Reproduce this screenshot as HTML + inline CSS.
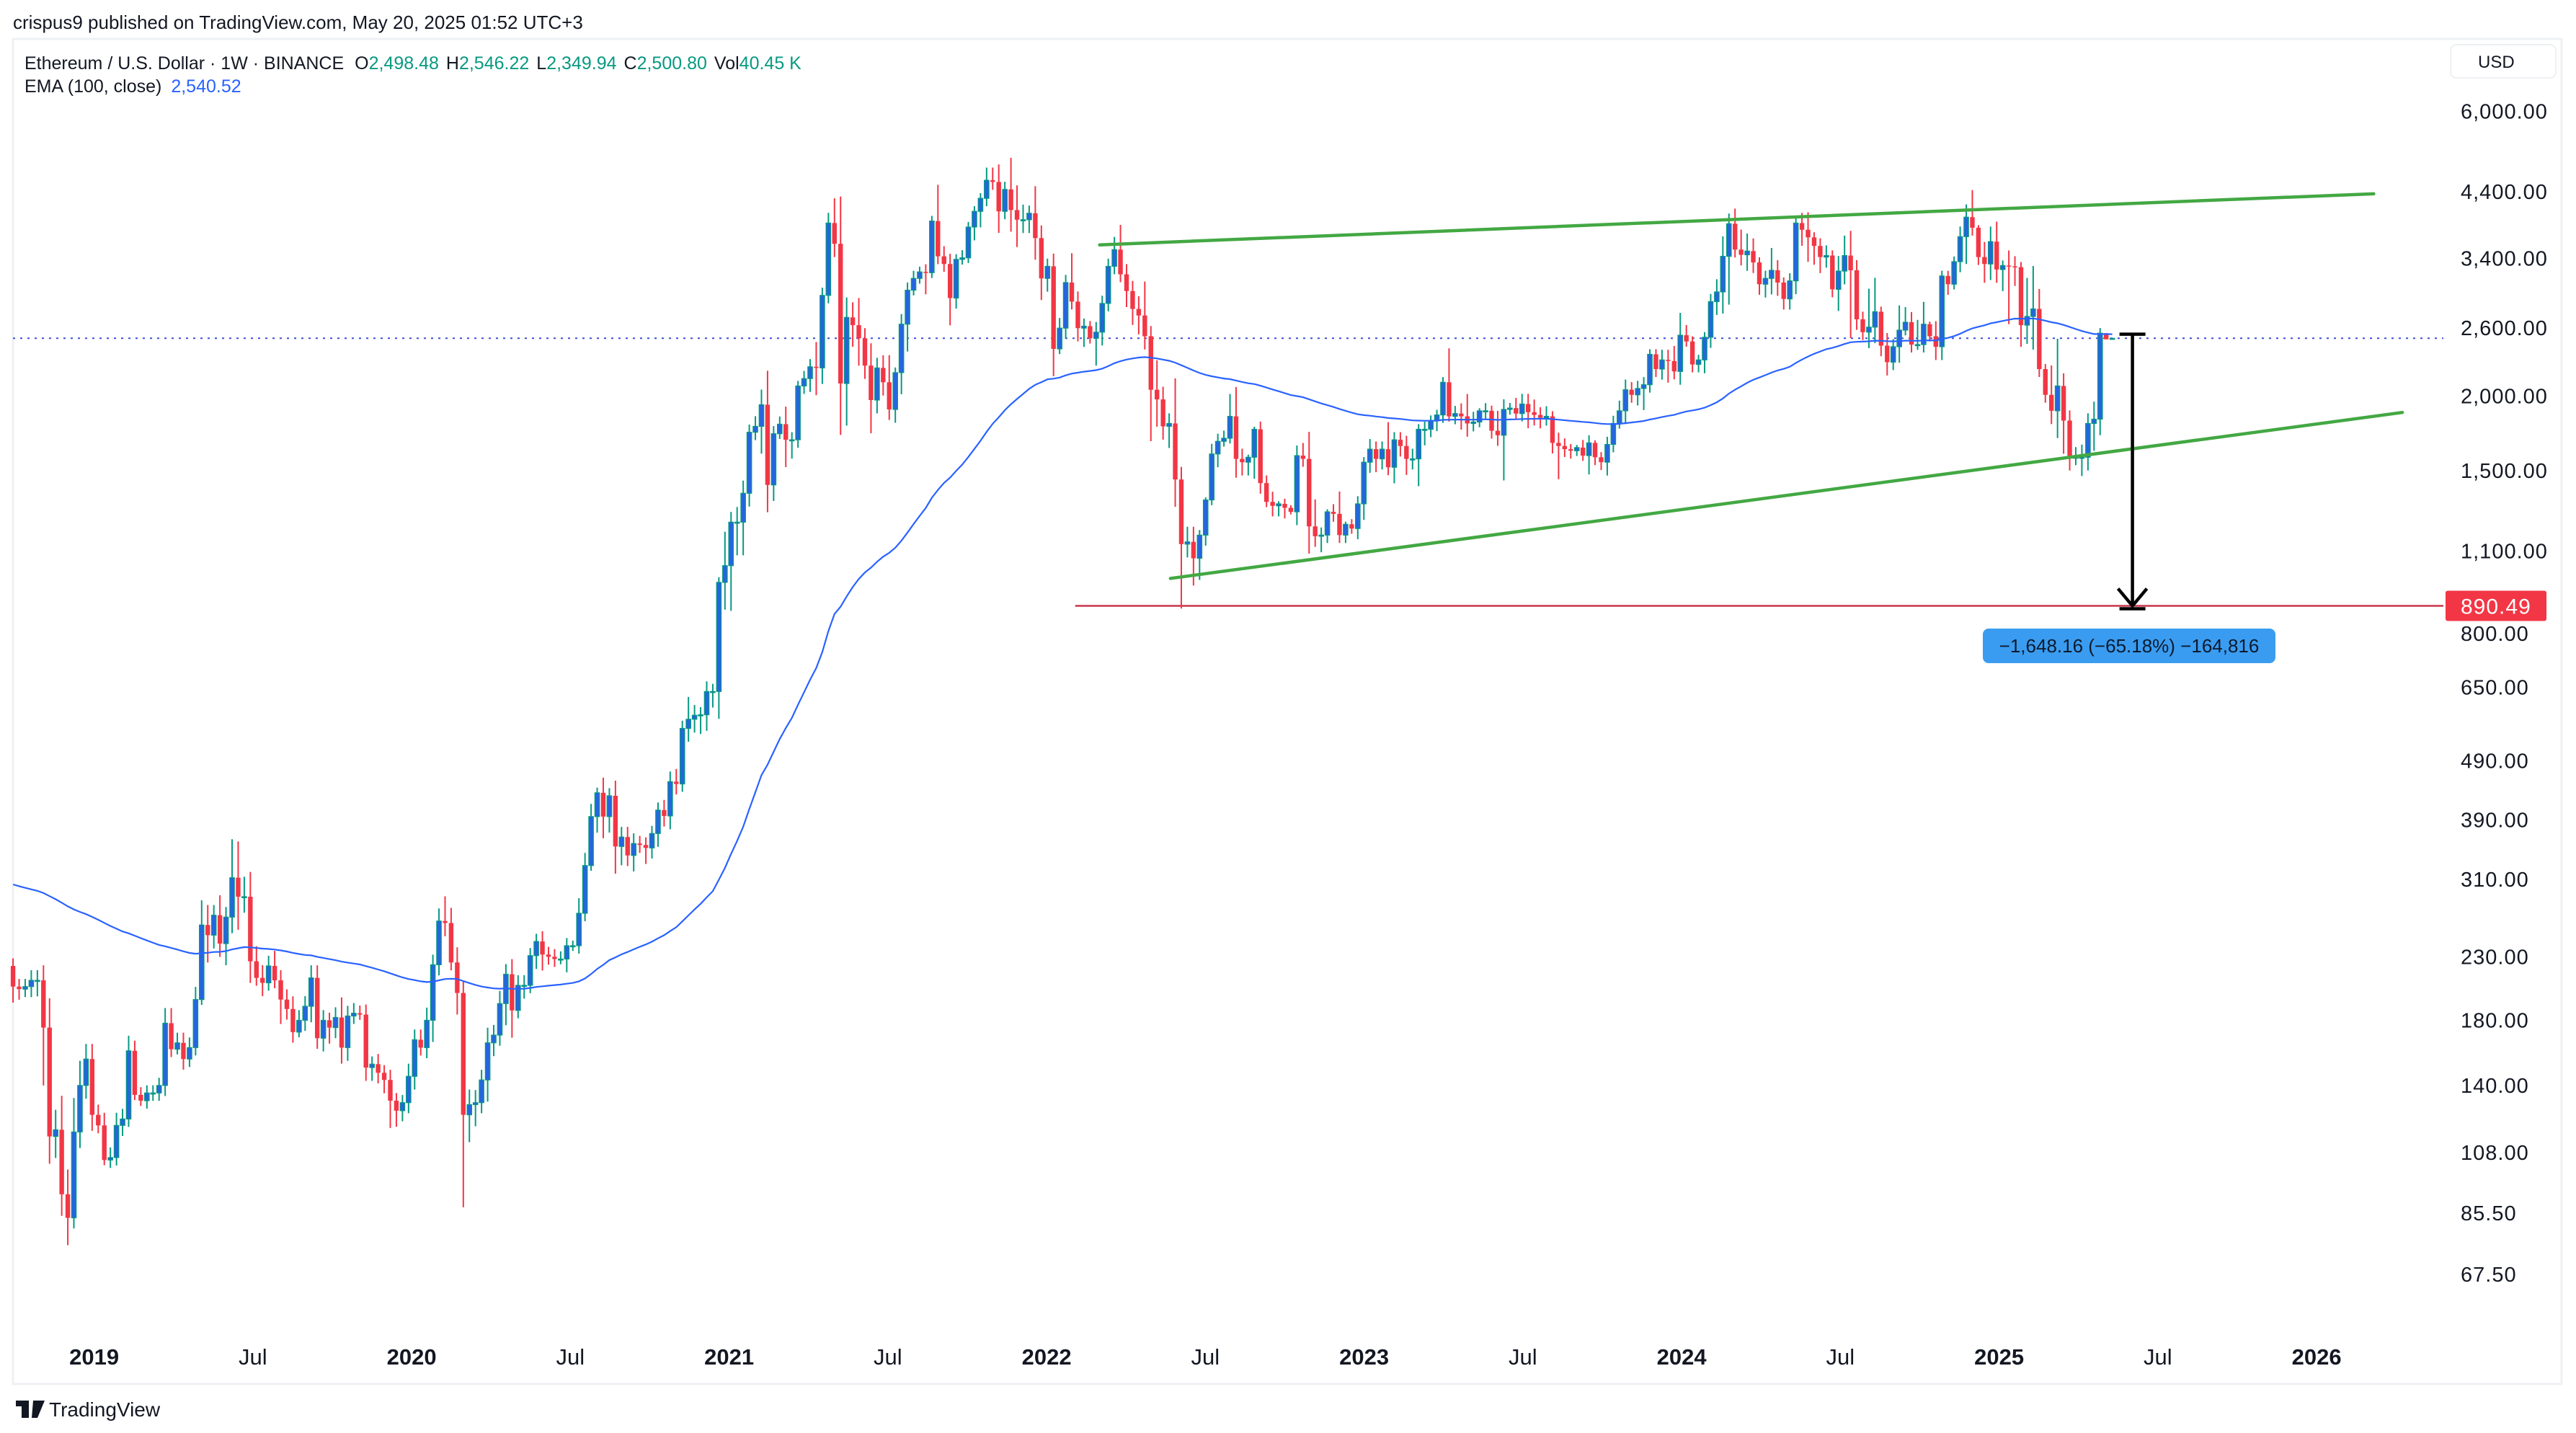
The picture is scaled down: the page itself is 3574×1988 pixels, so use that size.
<!DOCTYPE html>
<html><head><meta charset="utf-8"><style>
html,body{margin:0;padding:0;background:#fff;}
body{width:3574px;height:1988px;overflow:hidden;font-family:"Liberation Sans",sans-serif;}
svg{display:block;}
</style></head><body>
<svg id="chart" width="3574" height="1988" viewBox="0 0 3574 1988" xmlns="http://www.w3.org/2000/svg" font-family="Liberation Sans, sans-serif">
<rect x="0" y="0" width="3574" height="1988" fill="#fff"/>
<text x="18" y="40" font-size="26" fill="#131722">crispus9 published on TradingView.com, May 20, 2025 01:52 UTC+3</text>
<rect x="18" y="54" width="3536" height="1866" fill="none" stroke="#eef0f3" stroke-width="3"/>
<g id="grid"></g>
<g id="ann"></g>
<g id="candles"></g>
<g id="ema"></g>
<g id="over"></g>
<g id="yaxis"></g>
<g id="xaxis"></g>
<text x="34" y="96" font-size="25" fill="#131722">Ethereum / U.S. Dollar · 1W · BINANCE <tspan dx="8">O</tspan><tspan fill="#089981">2,498.48</tspan><tspan dx="10">H</tspan><tspan fill="#089981">2,546.22</tspan><tspan dx="10">L</tspan><tspan fill="#089981">2,349.94</tspan><tspan dx="10">C</tspan><tspan fill="#089981">2,500.80</tspan><tspan dx="10">Vol</tspan><tspan fill="#089981">40.45 K</tspan></text>
<text x="34" y="128" font-size="25" fill="#131722">EMA (100, close) <tspan dx="6" fill="#2962ff">2,540.52</tspan></text>
<rect x="3400" y="62" width="146" height="46" rx="8" fill="#fff" stroke="#eef0f3" stroke-width="2"/>
<text x="3438" y="94" font-size="24" fill="#131722">USD</text>
<g>
<g fill="#131722">
<rect x="22" y="1943" width="18" height="8"/><rect x="30" y="1943" width="10" height="24"/>
<polygon points="46,1943 62,1943 52,1967 44,1967"/>
</g>
<text x="68" y="1965" font-size="28" fill="#131722">TradingView</text>
</g>
</svg>
<script>
const startOpen = 222;
const emaSeed = 306;
const closes = [
205,203,205,210,210,175,115,118,92,84,117,140,155,
125,120,105,106,120,123,160,135,132,136,136,140,178,161,165,155,162,195,260,250,270,242,268,312,290,290,226,212,208,222,210,195,188,172,180,190,212,168,180,175,182,162,183,185,184,150,152,147,143,132,127,131,
145,167,162,180,223,264,262,225,200,125,130,131,143,165,170,192,215,187,206,206,231,244,232,230,228,228,240,240,272,327,395,433,395,428,352,365,340,356,354,350,370,405,396,452,448,555,575,584,585,640,640,975,
1040,1230,1230,1375,1740,1780,1935,1420,1730,1795,1690,1690,2080,2140,2240,2230,2950,3900,3600,2100,2710,2630,2500,2250,1970,2230,2110,1900,2190,2640,3010,3150,3230,3220,3930,3430,3330,2920,3390,3410,3840,4080,4290,4600,4570,4080,4440,4100,3950,3950,4050,3680,
3150,3300,2400,2600,3100,2880,2600,2620,2500,2560,2860,3300,3520,3200,3000,2800,2730,2520,2050,1975,1780,1800,1450,1130,1140,1070,1170,1340,1600,1680,1700,1850,1570,1550,1580,1760,1430,1330,1310,1320,1300,1280,1590,1570,1210,1165,1170,1280,1270,1170,1220,1200,
1320,1550,1630,1570,1630,1520,1690,1650,1570,1570,1760,1760,1820,1860,2110,1850,1870,1850,1800,1810,1890,1890,1750,1720,1900,1910,1870,1940,1880,1860,1840,1850,1670,1650,1630,1620,1640,1590,1670,1580,1550,1660,1800,1890,2050,2010,2060,2090,2350,2220,2300,2290,
2200,2530,2470,2260,2300,2510,2880,2990,3430,3890,3520,3450,3500,3350,3080,3150,3250,3100,2910,3120,3900,3800,3690,3570,3420,3440,3020,3240,3440,3250,2690,2560,2610,2770,2430,2280,2420,2580,2660,2440,2440,2640,2520,2420,3180,3080,3360,3700,3990,3830,3420,3330,3630,
3260,3310,3300,3290,2630,2720,2800,2220,2010,1890,2080,1820,1580,1580,1580,1800,1830,2550,2490,2500];
const hiPct = [
3,3,3,4,4,6,12,8,14,10,14,10,6,
6,4,5,4,5,4,6,4,3,3,3,3,6,6,4,4,4,5,10,8,4,8,4,16,15,8,10,6,5,4,6,4,4,5,4,4,5,5,4,3,4,8,4,4,3,4,3,4,3,4,3,3,
5,4,4,5,4,5,10,6,6,5,6,5,4,6,4,5,4,6,4,4,3,3,4,3,3,3,3,2,6,5,5,2,6,3,6,4,4,4,3,3,3,3,4,4,5,3,9,4,3,4,3,2,
14,4,6,5,3,4,6,14,3,3,7,3,2,3,3,10,3,4,10,20,8,6,11,4,9,4,5,11,2,4,3,3,2,3,2,15,4,4,2,3,2,2,2,5,5,7,3,13,10,6,3,11,
5,3,5,4,3,12,4,3,2,4,3,3,5,10,4,4,5,14,4,12,5,4,19,5,6,6,2,1,4,3,3,9,12,4,1,1,3,3,4,1,2,1,4,5,11,11,3,1,3,9,1,2,
3,2,4,3,3,11,3,3,4,4,2,3,2,2,2,14,3,4,9,4,1,3,2,8,4,2,4,4,4,5,3,4,2,4,3,2,1,3,3,1,2,3,3,4,4,3,3,3,2,2,
4,4,6,9,4,2,2,2,3,5,8,4,6,8,7,5,2,3,9,4,2,3,2,4,7,2,3,4,2,6,8,10,4,3,16,14,2,5,3,10,6,4,10,9,1,6,2,2,2,4,5,11,1,
6,6,8,2,6,4,2,16,18,8,2,12,20,5,4,4,5,4,7,2];
const loPct = [
6,4,3,4,6,20,10,8,8,10,4,6,5,
6,3,2,3,3,4,3,2,2,3,3,3,4,3,2,4,3,3,2,10,5,5,8,6,12,6,8,3,5,3,3,9,4,4,2,4,6,4,5,6,4,6,5,3,2,5,5,4,5,10,6,4,
4,5,3,4,8,4,5,3,8,30,10,8,4,8,5,4,8,10,3,5,3,5,6,3,3,2,5,2,3,3,2,6,8,6,10,7,4,6,3,6,4,5,4,5,4,3,5,5,7,6,6,10,
10,16,12,12,5,3,10,10,6,2,10,7,3,3,5,10,6,3,5,18,15,8,10,5,12,5,5,4,5,8,10,2,2,8,2,3,3,10,4,2,2,5,6,3,3,8,3,8,10,5,5,8,
8,5,10,2,4,3,5,7,2,10,5,3,3,3,6,6,7,5,18,10,5,8,10,22,5,10,8,4,2,5,2,2,7,5,5,8,4,2,4,4,4,1,5,3,10,4,6,3,3,3,3,2,
4,6,4,5,4,3,6,4,6,4,10,6,3,4,3,2,3,5,5,3,2,3,3,4,16,2,2,3,6,4,4,3,4,12,3,3,2,2,7,3,3,5,3,2,5,3,4,8,3,3,
4,8,3,5,2,3,3,5,4,5,8,17,3,4,6,4,4,5,6,5,4,4,5,6,9,7,6,4,3,8,5,23,4,3,6,6,4,5,3,6,2,3,2,3,2,5,5,4,2,4,10,3,3,
7,6,5,8,20,7,8,7,12,3,3,5,10,12,5,3,7,5,10,6];
const priceTicks = [6000,4400,3400,2600,2000,1500,1100,800,650,490,390,310,230,180,140,108,85.5,67.5];
const priceTickLabels = ["6,000.00","4,400.00","3,400.00","2,600.00","2,000.00","1,500.00","1,100.00","800.00","650.00","490.00","390.00","310.00","230.00","180.00","140.00","108.00","85.50","67.50"];
const timeTicks = [2019,2019.5,2020,2020.5,2021,2021.5,2022,2022.5,2023,2023.5,2024,2024.5,2025,2025.5,2026];
const timeTickLabels = ["2019","Jul","2020","Jul","2021","Jul","2022","Jul","2023","Jul","2024","Jul","2025","Jul","2026"];
const upperTrend = [[2022.167,3585],[2026.18,4366]];
const lowerTrend = [[2022.39,990],[2026.27,1878]];
const supportLevel = 890.49;
const supportStart = 2022.09;
const lastClose = 2500.80;
const arrowDate = 2025.42;
const arrowTop = 2540;

const NS="http://www.w3.org/2000/svg";
const X2019=130.6, PPY=440.5, STARTOFF=85, CSHIFT=-10;
const Y0=154.5, K=359.6, LN6000=Math.log(6000);
function yP(p){return Y0+(LN6000-Math.log(p))*K;}
function xYear(f){return X2019+(f-2019)*PPY;}
function xIdx(i){return X2019+CSHIFT+((i*7)-STARTOFF)/365.25*PPY;}
function mk(tag,attrs,parent){const e=document.createElementNS(NS,tag);for(const k in attrs)e.setAttribute(k,attrs[k]);parent.appendChild(e);return e;}
const gC=document.getElementById('candles'),gE=document.getElementById('ema'),gA=document.getElementById('ann'),gO=document.getElementById('over'),gY=document.getElementById('yaxis'),gX=document.getElementById('xaxis');

let prev=startOpen;
for(let i=0;i<closes.length;i++){
  const o=prev,c=closes[i];
  const top=Math.max(o,c),bot=Math.min(o,c);
  const hi=top*(1+(hiPct[i]||0)/100),lo=bot*(1-(loPct[i]||0)/100);
  const x=xIdx(i),up=c>=o;
  const col=up?'#089981':'#f23645';
  const g=mk('g',{},gC);
  
  
  mk('line',{x1:x,x2:x,y1:yP(hi),y2:yP(lo),stroke:col,'stroke-width':2},g);
  const yt=yP(top),yb=yP(bot);
  mk('rect',{x:x-3.2,y:yt,width:6.4,height:Math.max(1.5,yb-yt),fill:up?'#2466dd':'#f23645',stroke:col,'stroke-width':up?1.2:0},g);
  prev=c;
}
let ema=emaSeed,d='';const a=2/101;
for(let i=0;i<closes.length;i++){ema=ema+a*(closes[i]-ema);d+=(i?'L':'M')+xIdx(i).toFixed(1)+' '+yP(ema).toFixed(1);}
const ep=mk('path',{d:d,fill:'none',stroke:'#2962ff','stroke-width':2.2},gE);



const ld=mk('line',{x1:18,x2:3390,y1:yP(lastClose),y2:yP(lastClose),stroke:'#3d4fd6','stroke-width':2,'stroke-dasharray':'3 7'},gA);


const sl=mk('line',{x1:xYear(supportStart),x2:3390,y1:yP(supportLevel),y2:yP(supportLevel),stroke:'#c8364a','stroke-width':2.5},gA);


[[upperTrend,'upper-trendline'],[lowerTrend,'lower-trendline']].forEach(t=>{
  const L=mk('line',{x1:xYear(t[0][0][0]),y1:yP(t[0][0][1]),x2:xYear(t[0][1][0]),y2:yP(t[0][1][1]),stroke:'#43a843','stroke-width':4.5,'stroke-linecap':'round'},gO);
  
  
});
const ax=xYear(arrowDate),at=yP(arrowTop),ab=yP(supportLevel);
const ag=mk('g',{stroke:'#000','stroke-width':4.5,fill:'none'},gO);


mk('line',{x1:ax-18,x2:ax+18,y1:at,y2:at},ag);
mk('line',{x1:ax,x2:ax,y1:at,y2:ab},ag);
mk('polyline',{points:`${ax-20},${ab-24} ${ax},${ab} ${ax+20},${ab-24}`},ag);
mk('line',{x1:ax-18,x2:ax+18,y1:ab+4,y2:ab+4},ag);
const mb=mk('rect',{x:2751,y:872,width:406,height:48,rx:8,fill:'#3a9cf0'},gO);


const mt=mk('text',{x:2954,y:905,'font-size':26,fill:'#0c1a2e','text-anchor':'middle'},gO);
mt.textContent='−1,648.16 (−65.18%) −164,816';



priceTicks.forEach((p,i)=>{
  const t=mk('text',{x:3414,y:yP(p)+10,'font-size':29,fill:'#131722','letter-spacing':'1'},gY);
  t.textContent=priceTickLabels[i];
  
  
});
const tagY=yP(supportLevel);
const pr=mk('rect',{x:3393,y:tagY-21,width:140,height:42,rx:3,fill:'#f23645'},gY);


const prt=mk('text',{x:3414,y:tagY+11,'font-size':30,fill:'#fff','letter-spacing':'1'},gY);
prt.textContent='890.49';



timeTicks.forEach((f,i)=>{
  const t=mk('text',{x:xYear(f),y:1893,'font-size':31,fill:'#131722','text-anchor':'middle','font-weight':Number.isInteger(f)?'bold':'normal'},gX);
  t.textContent=timeTickLabels[i];
  
  
});
</script>
</body></html>
